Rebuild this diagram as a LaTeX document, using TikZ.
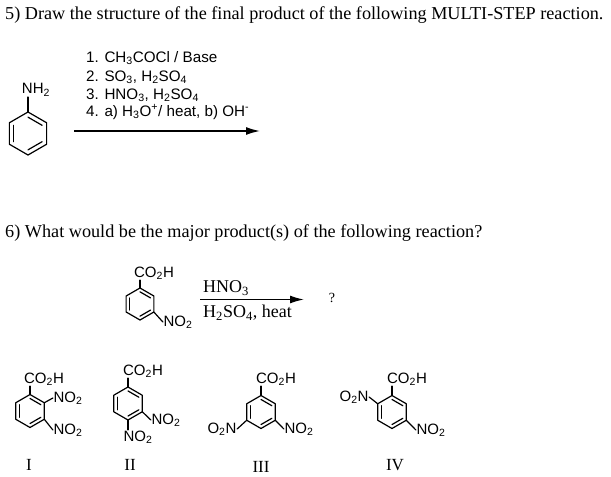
\documentclass[tikz,border=0pt]{standalone}
\usepackage{fontspec}
\setmainfont{Liberation Serif}
\setsansfont{Liberation Sans}
\usetikzlibrary{positioning, arrows.meta, calc}
\tikzset{
  quest/.style={font=\rmfamily\fontsize{18.2}{20}\selectfont, anchor=west, inner sep=0pt},
  chem/.style={font=\sffamily\fontsize{15}{17}\selectfont, inner sep=0.5pt},
  cond/.style={font=\sffamily\fontsize{15.2}{17}\selectfont, anchor=west, inner sep=0pt},
  reag/.style={font=\rmfamily\fontsize{18}{20}\selectfont, anchor=west, inner sep=0pt},
  roman/.style={font=\rmfamily\fontsize{17}{19}\selectfont, inner sep=0pt},
  bond/.style={line width=1.2pt, line cap=round, line join=round},
  rxn/.style={line width=1.5pt, -{Latex[length=14pt,width=8pt]}}
}
\newcommand{\chsub}[1]{\textsubscript{#1}}
% name, centre, radius: corners are name-30, name-90, ...
\newcommand{\benzene}[3]{
  \foreach \a in {30,90,...,330} \coordinate (#1-\a) at ($(#2)+(\a:#3pt)$);
  \draw[bond] (#1-30) -- (#1-90) -- (#1-150) -- (#1-210) -- (#1-270) -- (#1-330) -- cycle;
  \draw[bond] ($(#2)!0.76!(#1-30)$) -- ($(#2)!0.76!(#1-90)$);
  \draw[bond] ($(#2)!0.76!(#1-150)$) -- ($(#2)!0.76!(#1-210)$);
  \draw[bond] ($(#2)!0.76!(#1-270)$) -- ($(#2)!0.76!(#1-330)$);
}
\begin{document}
\begin{tikzpicture}[x=1pt,y=-1pt]
\useasboundingbox (0,0) rectangle (611,477);
\node[quest] (q5) at (5,15) {5) Draw the structure of the final product of the following MULTI-STEP reaction.};
\node[quest] (q6) at (5,233) {6) What would be the major product(s) of the following reaction?};

%question 5
\benzene{a}{28,133.5}{21.5}
\node[chem] (nh) at (36,90) {NH\chsub{2}};
\draw[bond] (a-90) -- (a-90 |- nh.south);
\node[cond] (c1) at (86,58) {1. CH\chsub{3}COCl / Base};
\node[cond] (c2) at (86,77) {2. SO\chsub{3}, H\chsub{2}SO\chsub{4}};
\node[cond] (c3) at (86,95) {3. HNO\chsub{3}, H\chsub{2}SO\chsub{4}};
\node[cond] (c4) at (86,112) {4. a) H\chsub{3}O\textsuperscript{+}/ heat, b) OH\textsuperscript{-}};
\coordinate (s1) at (74,131);
\coordinate (e1) at (260,131);
\draw[rxn] (s1) -- (e1);

%question 6
\benzene{b}{140,304}{16}
\node[chem] (bco) at (154,273) {CO\chsub{2}H};
\node[chem] (bno) at (178,322) {NO\chsub{2}};
\draw[bond] (b-90) -- (b-90 |- bco.south);
\draw[bond] (b-330) -- (bno.west);
\coordinate (s2) at (200,299.5);
\coordinate (e2) at (304,299.5);
\draw[rxn] (s2) -- (e2);
\node[reag] (hn) at (203,288) {HNO\chsub{3}};
\node[reag] (hs) at (203,313) {H\chsub{2}SO\chsub{4}, heat};
\node[roman, font=\rmfamily\fontsize{14}{16}\selectfont] (qm) at (332,298) {?};

%answer I
\benzene{i}{30,411}{16.5}
\node[chem] (ico) at (44,379) {CO\chsub{2}H};
\node[chem] (ino) at (68,398) {NO\chsub{2}};
\node[chem] (inp) at (68,430) {NO\chsub{2}};
\draw[bond] (i-90) -- (i-90 |- ico.south);
\draw[bond] (i-30) -- (ino.west);
\draw[bond] (i-330) -- (inp.west);
\node[roman] (li) at (29,465) {I};

%answer II
\benzene{ii}{128,403.5}{16.5}
\node[chem] (iico) at (143,371) {CO\chsub{2}H};
\node[chem] (iino) at (166,420) {NO\chsub{2}};
\node[chem] (iinp) at (138,437) {NO\chsub{2}};
\draw[bond] (ii-90) -- (ii-90 |- iico.south);
\draw[bond] (ii-330) -- (iino.west);
\draw[bond] (ii-270) -- (ii-270 |- iinp.north);
\node[roman] (lii) at (130,465) {II};

%answer III
\benzene{iii}{261,412}{16.5}
\node[chem] (iiico) at (276,379) {CO\chsub{2}H};
\node[chem] (iiion) at (222,429) {O\chsub{2}N};
\node[chem] (iiino) at (299,429) {NO\chsub{2}};
\draw[bond] (iii-90) -- (iii-90 |- iiico.south);
\draw[bond] (iii-210) -- (iiion.east);
\draw[bond] (iii-330) -- (iiino.west);
\node[roman] (liii) at (261,467) {III};

%answer IV
\benzene{iv}{392,412}{16.5}
\node[chem] (ivco) at (407,379) {CO\chsub{2}H};
\node[chem] (ivon) at (354,397) {O\chsub{2}N};
\node[chem] (ivno) at (431,430) {NO\chsub{2}};
\draw[bond] (iv-90) -- (iv-90 |- ivco.south);
\draw[bond] (iv-150) -- (ivon.east);
\draw[bond] (iv-330) -- (ivno.west);
\node[roman] (liv) at (395,465) {IV};
\end{tikzpicture}
\end{document}
